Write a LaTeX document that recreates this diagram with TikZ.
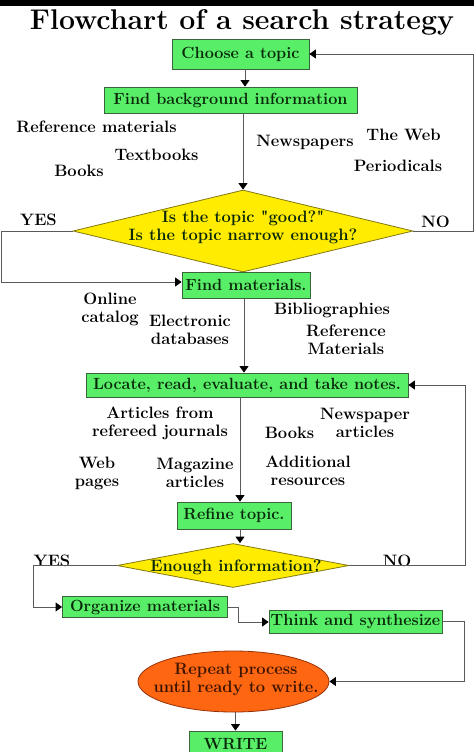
\documentclass[tikz,border=0pt]{standalone}
\usepackage{fontspec}
\usetikzlibrary{shapes.geometric,arrows.meta}
\definecolor{boxgreen}{RGB}{88,238,104}
\definecolor{boxline}{RGB}{60,100,60}
\definecolor{boxtext}{RGB}{10,40,10}
\definecolor{dyellow}{RGB}{255,236,0}
\definecolor{dline}{RGB}{130,120,20}
\definecolor{eorange}{RGB}{255,102,17}
\definecolor{eline}{RGB}{150,50,10}
\definecolor{etext}{RGB}{60,20,0}
\definecolor{lineg}{RGB}{90,90,90}
\newcommand\bxfont{\fontsize{16.2}{18}\selectfont\bfseries\addfontfeature{FakeBold=1}}
\newcommand\lbfont{\fontsize{16.5}{18}\selectfont\bfseries\addfontfeature{FakeBold=1}}
\begin{document}
\begin{tikzpicture}[x=1pt,y=-1pt,
  box/.style={draw=boxline, fill=boxgreen, line width=0.8pt, inner sep=0pt, font=\bxfont, text=boxtext},
  lbl/.style={font=\lbfont, align=center, inner sep=0pt},
  arr/.style={draw=lineg, line width=0.8pt, -{Triangle[width=9pt,length=6.5pt,color=black]}},
  ln/.style={draw=lineg, line width=0.8pt}]
\useasboundingbox (0,0) rectangle (474,752);
\fill[white] (0,0) rectangle (474,752);
\fill[black] (0,0) rectangle (474,6);
\node[font=\fontsize{28.5}{32}\selectfont\bfseries\addfontfeature{FakeBold=1}, inner sep=0pt] (title) at (242,22) {Flowchart of a search strategy};

\node[box, minimum width=137, minimum height=30] (choose) at (240.5,54) {Choose a topic};
\node[box, minimum width=253, minimum height=26] (findbg) at (230.5,100) {Find background information};
\node[diamond, draw=dline, fill=dyellow, line width=0.8pt, minimum width=340, minimum height=82, inner sep=0pt] (d1) at (243,231) {};
\node[lbl, text=boxtext] (d1t) at (243,227) {Is the topic \textquotedbl good?\textquotedbl\\Is the topic narrow enough?};
\node[box, minimum width=128, minimum height=26] (findmat) at (246,285) {Find materials.};
\node[box, minimum width=322, minimum height=24] (locate) at (247,385) {Locate, read, evaluate, and take notes.};
\node[box, minimum width=114, minimum height=27] (refine) at (234,515.5) {Refine topic.};
\node[diamond, draw=dline, fill=dyellow, line width=0.8pt, minimum width=232, minimum height=44, inner sep=0pt] (d2) at (233,565.5) {};
\node[lbl, text=boxtext] (d2t) at (236,567) {Enough information?};
\node[box, minimum width=165, minimum height=21] (organize) at (145,607) {Organize materials};
\node[box, minimum width=173, minimum height=23] (think) at (355.5,621.5) {Think and synthesize};
\node[ellipse, draw=eline, fill=eorange, line width=0.8pt, minimum width=191, minimum height=61, inner sep=0pt] (rep) at (233.5,681.5) {};
\node[lbl, text=etext] (rept) at (236,679) {Repeat process\\until ready to write.};
\node[box, minimum width=93, minimum height=26] (write) at (235.5,744) {WRITE};

% labels
\node[lbl] (l1) at (96.5,127) {Reference materials};
\node[lbl] (l2) at (156.5,155) {Textbooks};
\node[lbl] (l3) at (79,171) {Books};
\node[lbl] (l4) at (305,142) {Newspapers};
\node[lbl] (l5) at (403.5,135) {The Web};
\node[lbl] (l6) at (398,166) {Periodicals};
\node[lbl] (yes1) at (38.5,220) {YES};
\node[lbl] (no1) at (435.5,222) {NO};
\node[lbl] (l7) at (110,309) {Online\\catalog};
\node[lbl] (l8) at (190,330) {Electronic\\databases};
\node[lbl] (l9) at (332,310) {Bibliographies};
\node[lbl] (l10) at (346,340) {Reference\\Materials};
\node[lbl] (l11) at (160,423) {Articles from\\refereed journals};
\node[lbl] (l12) at (365,423) {Newspaper\\articles};
\node[lbl] (l13) at (289.5,433) {Books};
\node[lbl] (l14) at (97,473) {Web\\pages};
\node[lbl] (l15) at (195,473) {Magazine\\articles};
\node[lbl] (l16) at (308,471) {Additional\\resources};
\node[lbl] (yes2) at (52,561) {YES};
\node[lbl] (no2) at (397,561) {NO};

% connectors
\coordinate (c1) at (473,231);
\coordinate (c2) at (473,54);
\coordinate (c3) at (1,231);
\coordinate (c4) at (1,282);
\coordinate (c5) at (465,565.5);
\coordinate (c6) at (465,385);
\coordinate (c7) at (33,565.5);
\coordinate (c8) at (33,607);
\coordinate (c9) at (238,607);
\coordinate (c10) at (238,622);
\coordinate (c11) at (464,621.5);
\coordinate (c12) at (464,681.5);

\draw[arr] ([xshift=4.5pt]choose.south) -- ([xshift=14.5pt]findbg.north);
\draw[arr] ([xshift=12.5pt]findbg.south) -- (d1.north);
\draw[ln] (d1.east) -- (c1) -- (c2);
\draw[arr] (c2) -- (choose.east);
\draw[ln] (d1.west) -- (c3) -- (c4);
\draw[arr] (c4) -- (c4 -| findmat.west);
\draw[arr] ([xshift=-2pt]findmat.south) -- ([xshift=-3pt]locate.north);
\draw[arr] ([xshift=-7pt]locate.south) -- ([xshift=6pt]refine.north);
\draw[arr] ([xshift=6pt]refine.south) -- ([xshift=7pt]d2.north);
\draw[ln] (d2.east) -- (c5) -- (c6);
\draw[arr] (c6) -- (locate.east);
\draw[ln] (d2.west) -- (c7) -- (c8);
\draw[arr] (c8) -- (organize.west);
\draw[ln] (organize.east) -- (c9) -- (c10);
\draw[arr] (c10) -- (c10 -| think.west);
\draw[ln] (think.east) -- (c11) -- (c12);
\draw[arr] (c12) -- (rep.east);
\draw[arr] ([xshift=2pt]rep.south) -- (write.north);
\end{tikzpicture}
\end{document}
